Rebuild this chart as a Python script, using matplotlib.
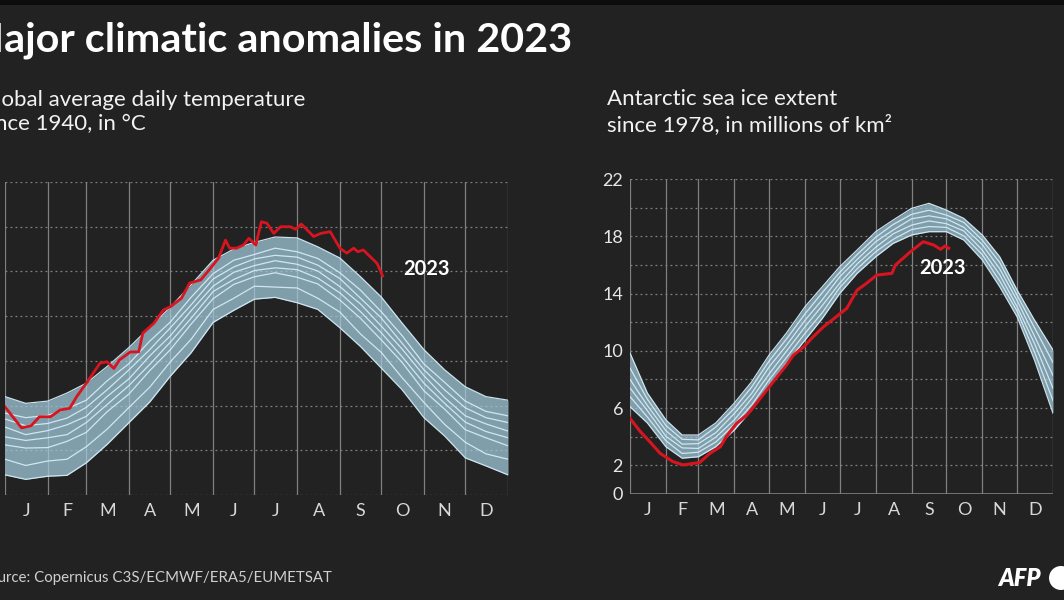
import matplotlib.pyplot as plt
from matplotlib.patches import Ellipse, Rectangle

# half-month sampling days (day of year)
days = [0, 15, 31, 45, 59, 74, 90, 105, 120, 135, 151, 166, 181,
        196, 212, 227, 243, 258, 273, 288, 304, 319, 334, 349, 365]

month_edges = [0, 31, 59, 90, 120, 151, 181, 212, 243, 273, 304, 334, 365]
month_labels = ['J', 'F', 'M', 'A', 'M', 'J', 'J', 'A', 'S', 'O', 'N', 'D']

# Global average daily temperature, past years 1940-2022 (representative lines, °C)
temp_past = [
    [11.45, 11.35, 11.42, 11.44, 11.72, 12.13, 12.62, 13.08, 13.66, 14.18, 14.86, 15.13, 15.38,
     15.42, 15.30, 15.15, 14.74, 14.32, 13.84, 13.36, 12.73, 12.32, 11.83, 11.65, 11.45],
    [11.80, 11.66, 11.76, 11.80, 12.08, 12.47, 12.96, 13.41, 13.98, 14.48, 15.15, 15.40, 15.67,
     15.65, 15.63, 15.40, 15.09, 14.60, 14.19, 13.63, 13.07, 12.58, 12.18, 11.92, 11.80],
    [12.12, 12.05, 12.06, 12.20, 12.40, 12.86, 13.26, 13.78, 14.25, 14.82, 15.39, 15.71, 15.88,
     15.97, 15.87, 15.72, 15.36, 14.95, 14.47, 13.97, 13.33, 12.92, 12.46, 12.28, 12.10],
    [12.30, 12.22, 12.28, 12.35, 12.62, 13.02, 13.45, 13.92, 14.42, 14.95, 15.55, 15.82, 16.02,
     16.08, 16.04, 15.85, 15.52, 15.10, 14.63, 14.10, 13.50, 13.05, 12.63, 12.42, 12.28],
    [12.52, 12.35, 12.44, 12.57, 12.76, 13.20, 13.60, 14.11, 14.56, 15.12, 15.67, 15.98, 16.13,
     16.24, 16.16, 16.01, 15.66, 15.27, 14.78, 14.27, 13.67, 13.18, 12.77, 12.59, 12.43],
    [12.70, 12.55, 12.60, 12.72, 12.96, 13.35, 13.80, 14.25, 14.74, 15.25, 15.83, 16.10, 16.28,
     16.36, 16.32, 16.14, 15.84, 15.40, 14.96, 14.40, 13.80, 13.35, 12.95, 12.73, 12.62],
    [12.83, 12.73, 12.78, 12.93, 13.12, 13.55, 13.94, 14.44, 14.87, 15.42, 15.95, 16.25, 16.38,
     16.52, 16.44, 16.29, 15.97, 15.58, 15.10, 14.57, 13.93, 13.52, 13.10, 12.87, 12.77],
    [13.20, 13.05, 13.10, 13.28, 13.50, 13.87, 14.30, 14.75, 15.20, 15.70, 16.25, 16.50, 16.65,
     16.77, 16.75, 16.55, 16.30, 15.88, 15.43, 14.85, 14.25, 13.80, 13.42, 13.20, 13.12],
]

# 2023 daily temperature (day of year, °C)
temp_2023_days = [0, 12, 19, 25, 33, 40, 47, 52, 59, 69, 74, 79, 83, 91, 97, 100, 108, 115,
                  120, 128, 134, 142, 148, 155, 160, 163, 168, 173, 177, 182, 186, 190, 195,
                  200, 207, 211, 215, 224, 229, 236, 243, 248, 253, 256, 260, 265, 270, 274]
temp_2023 = [12.97, 12.50, 12.55, 12.75, 12.75, 12.90, 12.94, 13.20, 13.50, 13.95, 13.98, 13.83,
             14.02, 14.20, 14.20, 14.62, 14.84, 15.14, 15.21, 15.40, 15.74, 15.81, 16.03, 16.30,
             16.70, 16.52, 16.52, 16.59, 16.74, 16.59, 17.11, 17.08, 16.85, 17.00, 17.00, 16.94,
             17.06, 16.78, 16.85, 16.89, 16.52, 16.41, 16.52, 16.44, 16.48, 16.33, 16.18, 15.90]

# Antarctic sea ice extent, past years 1978-2022 (representative lines, millions of km2)
ice_past = [
    [6.10, 4.96, 3.30, 2.50, 2.60, 3.30, 4.47, 5.87, 7.52, 9.14, 10.75, 12.27, 14.01,
     15.41, 16.57, 17.50, 18.09, 18.32, 18.32, 17.74, 16.34, 14.48, 12.38, 9.36, 5.64],
    [6.80, 5.38, 3.72, 2.83, 2.92, 3.63, 4.86, 6.22, 7.97, 9.53, 11.22, 12.68, 14.42,
     15.73, 16.92, 17.78, 18.47, 18.68, 18.62, 18.03, 16.72, 14.88, 12.77, 9.92, 6.52],
    [7.40, 5.82, 4.03, 3.22, 3.18, 3.97, 5.18, 6.67, 8.38, 9.97, 11.68, 13.17, 14.73,
     16.07, 17.23, 18.17, 18.78, 19.07, 18.88, 18.37, 17.03, 15.32, 13.08, 10.52, 7.38],
    [8.00, 6.18, 4.42, 3.48, 3.52, 4.28, 5.62, 7.03, 8.87, 10.38, 12.13, 13.58, 15.17,
     16.38, 17.62, 18.43, 19.22, 19.43, 19.22, 18.63, 17.42, 15.73, 13.52, 11.03, 8.28],
    [8.80, 6.62, 4.78, 3.82, 3.78, 4.67, 5.98, 7.47, 9.28, 10.82, 12.58, 14.07, 15.48,
     16.72, 17.93, 18.82, 19.53, 19.82, 19.48, 18.97, 17.73, 16.17, 13.88, 11.62, 9.18],
    [9.85, 7.05, 5.17, 4.12, 4.12, 4.96, 6.35, 7.84, 9.70, 11.24, 13.08, 14.48, 15.88,
     17.04, 18.32, 19.13, 19.95, 20.30, 19.83, 19.25, 18.09, 16.57, 14.25, 12.15, 10.06],
]

# 2023 sea ice extent (day of year, millions of km2)
ice_2023_days = [0, 9, 17, 26, 37, 46, 55, 60, 69, 78, 83, 92, 101, 109, 118, 127, 135, 141,
                 150, 158, 167, 178, 187, 196, 204, 213, 226, 229, 242, 253, 262, 268, 272, 275]
ice_2023 = [5.28, 4.35, 3.66, 2.84, 2.26, 2.03, 2.14, 2.19, 2.84, 3.30, 4.00, 4.94, 5.52, 6.33,
            7.26, 8.19, 9.00, 9.70, 10.28, 10.98, 11.68, 12.38, 12.96, 14.24, 14.71, 15.29,
            15.41, 15.99, 16.92, 17.62, 17.39, 17.09, 17.32, 17.16]

ice_ticks = [0, 2, 6, 10, 14, 18, 22]

BG = '#222222'
GRID = '#808080'
PAST = '#d2ebf6'
FILL = '#a6cde0'
RED = '#d7141f'
TXT = '#f2f2f2'
FONT = ['Lato', 'DejaVu Sans']

plt.rcParams['font.family'] = FONT

fig = plt.figure(figsize=(10.64, 6), dpi=100, facecolor=BG)
fig.patches.append(Rectangle((0, 1 - 5 / 600), 1, 5 / 600, transform=fig.transFigure,
                             facecolor='#0c0c0c', edgecolor='none', zorder=0))


def month_axes(ax, ymin, ymax, yticks):
    ax.set_facecolor(BG)
    ax.set_xlim(0, 365)
    ax.set_ylim(ymin, ymax)
    for s in ax.spines.values():
        s.set_visible(False)
    for d in month_edges:
        ax.axvline(d, color=GRID, lw=0.9, zorder=1)
    for v in yticks:
        ax.axhline(v, color=GRID, lw=0.9, ls=(0, (1.5, 2.5)), zorder=1)
    mids = [(a + b) / 2 for a, b in zip(month_edges[:-1], month_edges[1:])]
    ax.set_xticks(mids)
    ax.set_xticklabels(month_labels)
    ax.tick_params(axis='x', length=0, pad=6, labelsize=13, labelcolor='#d8d8d8')


# left: temperature (its y labels sit outside the cropped picture)
ax1 = fig.add_axes([5 / 1064, 105 / 600, 503 / 1064, 313 / 600])
month_axes(ax1, 11, 18, list(range(11, 19)))
ax1.set_yticks([])
ax1.fill_between(days, temp_past[0], temp_past[-1], color=FILL, alpha=0.72, lw=0, zorder=2)
for line in temp_past:
    ax1.plot(days, line, color=PAST, lw=0.9, alpha=0.95, zorder=3)
ax1.plot(temp_2023_days, temp_2023, color=RED, lw=2, zorder=4)
ax1.text(289, 16.05, '2023', color='white', fontsize=14.5, fontweight='bold',
         va='center', ha='left', zorder=5)

# right: sea ice
ax2 = fig.add_axes([630 / 1064, 106 / 600, 423 / 1064, 315 / 600])
month_axes(ax2, 0, 22, list(range(2, 23, 2)))
ax2.axhline(0, color=GRID, lw=1.2, zorder=1)
ax2.set_yticks(ice_ticks)
ax2.tick_params(axis='y', length=0, labelsize=13, labelcolor='#e6e6e6', pad=5)
ax2.fill_between(days, ice_past[0], ice_past[-1], color=FILL, alpha=0.72, lw=0, zorder=2)
for line in ice_past:
    ax2.plot(days, line, color=PAST, lw=0.9, alpha=0.95, zorder=3)
ax2.plot(ice_2023_days, ice_2023, color=RED, lw=2.2, zorder=4)
ax2.text(250, 15.8, '2023', color='white', fontsize=14.5, fontweight='bold',
         va='center', ha='left', zorder=5)

# titles and texts
fig.text(572 / 1064, 1 - 40 / 600, 'Major climatic anomalies in 2023', color='white',
         fontsize=29.8, fontweight='bold', ha='right', va='center')
fig.text(-20 / 1064, 1 - 112 / 600, 'Global average daily temperature\nsince 1940, in °C',
         color=TXT, fontsize=16, ha='left', va='center', linespacing=1.3)
fig.text(607 / 1064, 1 - 112 / 600, 'Antarctic sea ice extent\nsince 1978, in millions of km²',
         color=TXT, fontsize=16, ha='left', va='center', linespacing=1.3)
fig.text(332 / 1064, 1 - 578 / 600, 'Source: Copernicus C3S/ECMWF/ERA5/EUMETSAT',
         color='#cfcfcf', fontsize=10.8, ha='right', va='center')
fig.text(1041 / 1064, 1 - 578 / 600, 'AFP', color='white', fontsize=17, fontweight='heavy',
         style='italic', ha='right', va='center')
fig.patches.append(Ellipse((1061 / 1064, 1 - 578 / 600), 24 / 1064, 24 / 600,
                           transform=fig.transFigure, facecolor='white', edgecolor='none'))

fig.savefig('out.png', dpi=100, facecolor=BG)
